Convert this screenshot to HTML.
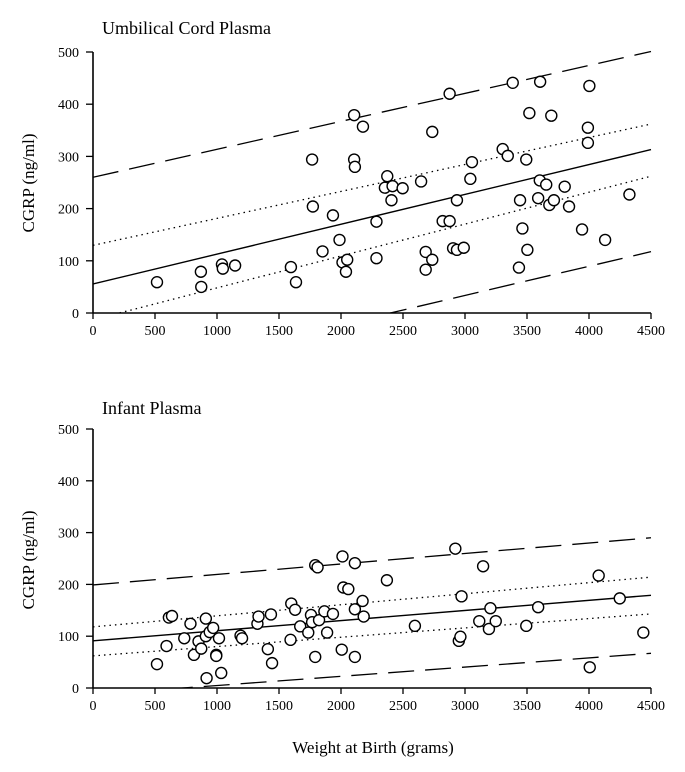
<!DOCTYPE html>
<html><head><meta charset="utf-8"><style>
body{margin:0;background:#fff}
svg{display:block;font-family:"Liberation Serif",serif}
</style></head><body>
<svg id="chart" width="685" height="772" viewBox="0 0 685 772" xmlns="http://www.w3.org/2000/svg">
<text x="102" y="34" font-size="18">Umbilical Cord Plasma</text>
<text x="102" y="414" font-size="18">Infant Plasma</text>
<text x="373" y="753" font-size="17" text-anchor="middle">Weight at Birth (grams)</text>
<text transform="translate(34,183) rotate(-90)" font-size="17" text-anchor="middle">CGRP (ng/ml)</text>
<text transform="translate(34,560) rotate(-90)" font-size="17" text-anchor="middle">CGRP (ng/ml)</text>
</svg>
<script>
const xTicks=[0,500,1000,1500,2000,2500,3000,3500,4000,4500];
const yTicks=[0,100,200,300,400,500];
// Umbilical cord plasma
const topX=[516,870,873,1040,1047,1146,1596,1637,1767,1773,1935,1851,1988,2106,2177,2106,2112,2012,2050,2040,2286,2286,2373,2354,2416,2407,2497,2646,2736,2683,2736,2683,2820,2876,2876,2935,2904,2935,2990,3043,3056,3304,3345,3385,3494,3444,3463,3503,3435,3519,3606,3696,3603,3655,3590,3680,3717,3804,3839,3944,3991,3991,4003,4130,4326];
const topY=[59,79,50,93,85,91,88,59,294,204,187,118,140,379,357,294,280,97,102,79,175,105,262,240,243,216,239,252,347,117,102,83,176,176,420,216,124,121,125,257,289,314,301,441,294,216,162,121,87,383,443,378,254,246,220,207,216,242,204,160,355,326,435,140,227];
const topFit=[55.6,313];
const topCIUpper=[129.6,362];
const topCILower=[-13,262];
const topPIUpper=[260,501];
const topPILower=[-134,117.5];
// Infant plasma
const botX=[516,593,612,637,736,786,814,851,873,910,916,910,941,969,994,994,1016,1034,1190,1202,1326,1335,1410,1435,1444,1593,1599,1630,1671,1736,1758,1767,1792,1792,1811,1823,1866,1888,1935,2006,2012,2019,2059,2112,2112,2112,2174,2183,2370,2596,2922,2950,2963,2972,3115,3146,3193,3205,3248,3494,3590,4006,4078,4248,4438];
const botY=[46,81,136,139,96,124,64,90,76,134,19,100,108,116,64,62,96,29,101,96,124,138,75,142,48,93,163,151,119,107,141,127,60,237,233,131,148,107,143,74,254,194,191,241,152,60,168,138,208,120,269,91,99,177,129,235,114,154,129,120,156,40,217,173,107];
const botFit=[91,179];
const botCIUpper=[118,214];
const botCILower=[62,143];
const botPIUpper=[199,290];
const botPILower=[-13,67];

const svg=document.getElementById('chart');
const NS='http://www.w3.org/2000/svg';
function mk(tag,attrs){const e=document.createElementNS(NS,tag);for(const k in attrs)e.setAttribute(k,attrs[k]);svg.appendChild(e);return e;}

function drawChart(prefix,y0px,y500px,xs,ys,fit,ciU,ciL,piU,piL){
  const X=v=>93+(v/4500)*(651-93);
  const Y=v=>y0px+(v/500)*(y500px-y0px);
  const g=document.createElementNS(NS,'g');svg.appendChild(g);
  
  
  const add=(tag,attrs)=>{const e=document.createElementNS(NS,tag);for(const k in attrs)e.setAttribute(k,attrs[k]);g.appendChild(e);return e;};
  const clip='clip-'+prefix;
  const cp=add('clipPath',{id:clip});
  const r=document.createElementNS(NS,'rect');
  r.setAttribute('x',X(0));r.setAttribute('y',Y(500)-5);r.setAttribute('width',X(4500)-X(0)+2);r.setAttribute('height',Y(0)-Y(500)+5);
  cp.appendChild(r);
  // axes
  const ax=add('line',{x1:X(0),y1:Y(0),x2:X(4500),y2:Y(0),stroke:'#000','stroke-width':1.6});
  
  
  const ay=add('line',{x1:X(0),y1:Y(0),x2:X(0),y2:Y(500),stroke:'#000','stroke-width':1.6});
  
  
  xTicks.forEach(t=>{
    add('line',{x1:X(t),y1:Y(0),x2:X(t),y2:Y(0)+6,stroke:'#000','stroke-width':1.3});
    const tx=add('text',{x:X(t),y:Y(0)+22,'font-size':14,'text-anchor':'middle'});
    tx.textContent=t;
    
    
  });
  yTicks.forEach(t=>{
    add('line',{x1:X(0)-7,y1:Y(t),x2:X(0),y2:Y(t),stroke:'#000','stroke-width':1.3});
    const tx=add('text',{x:X(0)-14,y:Y(t)+5,'font-size':14,'text-anchor':'end'});
    tx.textContent=t;
    
    
  });
  const line=(vals,dash,w,name)=>{
    const l=add('line',{x1:X(0),y1:Y(vals[0]),x2:X(4500),y2:Y(vals[1]),stroke:'#000','stroke-width':w,'stroke-dasharray':dash,'clip-path':'url(#'+clip+')'});
    
    
  };
  line(fit,'none',1.4,'regression-line');
  line(ciU,'1.5 4',1.3,'ci-upper');
  line(ciL,'1.5 4',1.3,'ci-lower');
  line(piU,'26 11',1.3,'pi-upper');
  line(piL,'26 11',1.3,'pi-lower');
  xs.forEach((v,i)=>{
    const c=add('circle',{cx:X(v),cy:Y(ys[i]),r:5.5,fill:'#fff',stroke:'#000','stroke-width':1.4});
    
    
  });
}
drawChart('umbilical',313,52,topX,topY,topFit,topCIUpper,topCILower,topPIUpper,topPILower);
drawChart('infant',688,429,botX,botY,botFit,botCIUpper,botCILower,botPIUpper,botPILower);
</script>
</body></html>
